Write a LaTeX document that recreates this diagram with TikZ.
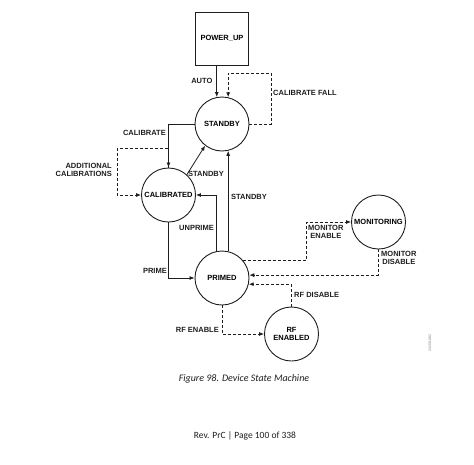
\documentclass[tikz,border=0pt]{standalone}
\usepackage{fontspec}
\setmainfont{Liberation Sans}
\newfontfamily\capfont{Carlito}
\usepackage{tikz}
\usetikzlibrary{arrows.meta, calc}
\definecolor{ink}{RGB}{30, 30, 30}
\definecolor{idgray}{RGB}{120, 120, 120}
\tikzstyle{state} = [circle, draw=ink, line width=0.9pt, minimum size=54pt, inner sep=0pt, align=center, font=\bfseries\fontsize{7.5}{8.5}\selectfont]
\tikzstyle{startbox} = [rectangle, draw=ink, line width=0.9pt, minimum width=53pt, minimum height=53pt, inner sep=0pt, font=\bfseries\fontsize{7.5}{8.5}\selectfont]
\tikzstyle{arrow} = [line width=0.8pt, draw=ink, -{Latex[length=5pt,width=4pt]}]
\tikzstyle{dasharrow} = [arrow, dash pattern=on 3pt off 2pt]
\tikzstyle{lbl} = [inner sep=0pt, align=center, text=ink, font=\bfseries\fontsize{7.5}{8.5}\selectfont]

\begin{document}
\begin{tikzpicture}[x=1pt, y=-1pt]
    \useasboundingbox (0,0) rectangle (474,464);
    \node (powerup) [startbox] at (222,38.5) {POWER\_UP};
    \node (standby) [state] at (222,124) {STANDBY};
    \node (calibrated) [state] at (168.5,195) {CALIBRATED};
    \node (primed) [state] at (222,278) {PRIMED};
    \node (monitoring) [state] at (378.5,222) {MONITORING};
    \node (rfen) [state] at (291.5,334) {RF\\ENABLED};

    \draw [arrow] (powerup.south -| standby.101) -- node[lbl, left=4pt] {AUTO} (standby.101);
    \draw [dasharrow] (standby.east) -- ++(22,0) -- ++(0,-51) -| (standby.77);
    \node (calfall) [lbl, anchor=west] at (273,93) {CALIBRATE FALL};
    \draw [arrow] (standby.west) -| (calibrated.north);
    \node (callbl) [lbl, anchor=east] at (166,133) {CALIBRATE};
    \draw [dasharrow] (calibrated.north) -- ++(0,-19) -- ++(-51.5,0) |- (calibrated.west);
    \node (addcal) [lbl, anchor=east, align=right] at (112,170) {ADDITIONAL\\CALIBRATIONS};
    \draw [arrow] (calibrated.48) -- (standby.232);
    \node (sb1) [lbl, anchor=west] at (188,174) {STANDBY};
    \draw [arrow] (primed.77) -- (standby.283);
    \node (sb2) [lbl, anchor=west] at (231,197) {STANDBY};
    \draw [arrow] (primed.101) |- (calibrated.east);
    \node (unprime) [lbl, anchor=east] at (214,228) {UNPRIME};
    \draw [arrow] (calibrated.south) |- (primed.west);
    \node (prime) [lbl, anchor=east] at (167,271) {PRIME};
    \draw [dasharrow] (primed.39) -- ++(63,0) |- (monitoring.west);
    \node (monen) [lbl, anchor=west] at (308,232) {MONITOR\\ENABLE};
    \draw [dasharrow] (monitoring.south) |- (primed.6);
    \node (mondis) [lbl, anchor=west] at (381,258) {MONITOR\\DISABLE};
    \draw [dasharrow] (rfen.north) |- (primed.-13);
    \node (rfdis) [lbl, anchor=west] at (294,295) {RF DISABLE};
    \draw [dasharrow] (primed.south) |- (rfen.west);
    \node (rfenlbl) [lbl, anchor=east] at (219,330) {RF ENABLE};

    \node (caption) [text=ink, font=\capfont\itshape\fontsize{10}{12}\selectfont] at (244,379) {Figure 98. Device State Machine};
    \node (footer) [text=ink, font=\capfont\fontsize{9.5}{11}\selectfont] at (245,436) {Rev. PrC | Page 100 of 338};
    \node (figid) [text=idgray, rotate=90, font=\fontsize{3.5}{4}\selectfont] at (430,343) {24159-082};
\end{tikzpicture}
\end{document}
